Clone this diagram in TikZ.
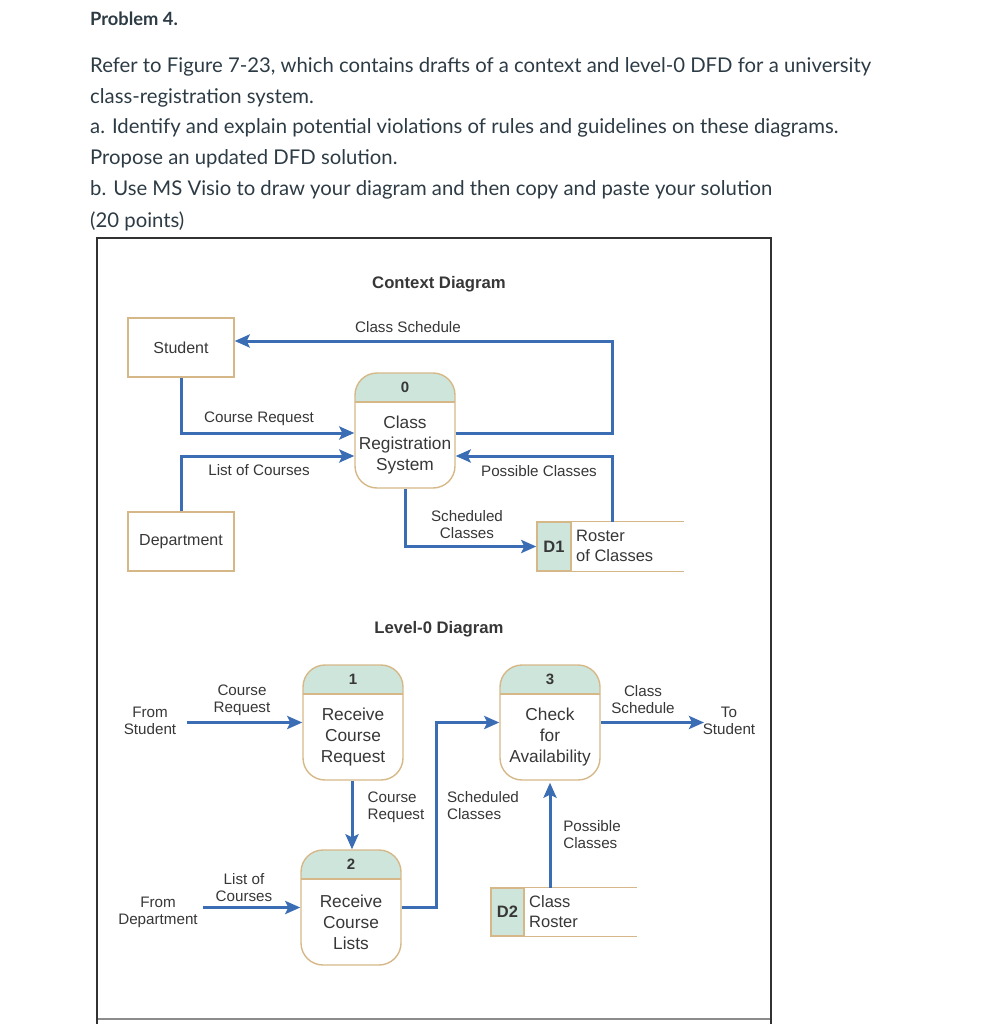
\documentclass[tikz,border=0pt]{standalone}
\usepackage{fontspec}
\setmainfont{Liberation Sans}
\newfontfamily\latofont{Lato}
\usetikzlibrary{arrows.meta}
\definecolor{flowblue}{RGB}{59,109,181}
\definecolor{tanc}{RGB}{214,184,136}
\definecolor{mint}{RGB}{206,229,220}
\definecolor{txt}{RGB}{55,55,55}
\definecolor{hdrtxt}{RGB}{45,59,69}
\definecolor{framec}{RGB}{50,50,50}
\definecolor{botline}{RGB}{140,140,140}
\begin{document}
\begin{tikzpicture}[x=1pt,y=-1pt,
 lbl/.style={font=\fontsize{15.2}{17}\selectfont, text=txt, align=center, inner sep=0pt},
 lbll/.style={lbl, align=left},
 ptxt/.style={font=\fontsize{17.3}{21}\selectfont, text=txt, align=center, inner sep=0pt},
 pnum/.style={font=\fontsize{15}{18}\bfseries\selectfont, text=txt, inner sep=0pt},
 dtitle/.style={font=\fontsize{16.7}{20}\bfseries\selectfont, text=txt, inner sep=0pt},
 ext/.style={rectangle, draw=tanc, line width=1.4pt, minimum width=106pt, minimum height=59pt, inner sep=0pt, font=\fontsize{16}{19}\selectfont, text=txt},
 proc/.style={rectangle, rounded corners=22pt, draw=tanc, line width=1.4pt, minimum width=100pt, minimum height=115pt, inner sep=0pt,
   path picture={\fill[mint, sharp corners] ([yshift=2pt]path picture bounding box.north west) rectangle ([yshift=-29pt]path picture bounding box.north east);
   \draw[tanc, line width=1.4pt, sharp corners] ([yshift=-29pt]path picture bounding box.north west) -- ([yshift=-29pt]path picture bounding box.north east);}},
 sid/.style={rectangle, draw=tanc, fill=mint, line width=1.4pt, inner sep=0pt, font=\fontsize{16.5}{19}\bfseries\selectfont, text=txt},
 sline/.style={draw=tanc, line width=1.4pt},
 stxt/.style={font=\fontsize{16.5}{20}\selectfont, text=txt, align=left, inner sep=0pt, anchor=west},
 flow/.style={draw=flowblue, line width=3pt, -{Stealth[length=15pt,width=13pt,inset=3pt]}},
 hdr/.style={font=\latofont\fontsize{20.3}{24}\selectfont, text=hdrtxt, inner sep=0pt, anchor=base west},
]
\useasboundingbox (0,0) rectangle (1003,1024);
% header text
\node[hdr, font=\latofont\bfseries\fontsize{18.3}{22}\selectfont] (h0) at (90,26) {Problem 4.};
\node[hdr] (h1) at (90,73) {Refer to Figure 7-23, which contains drafts of a context and level-0 DFD for a university};
\node[hdr] (h2) at (90,104) {class-registration system.};
\node[hdr] (h3) at (90,134) {a. Identify and explain potential violations of rules and guidelines on these diagrams.};
\node[hdr] (h4) at (90,165) {Propose an updated DFD solution.};
\node[hdr] (h5) at (90,196) {b. Use MS Visio to draw your diagram and then copy and paste your solution};
\node[hdr] (h6) at (90,227) {(20 points)};
% frame
\draw[framec, line width=2pt] (97,1024) -- (97,238) -- (771,238) -- (771,1024);
\draw[botline, line width=2pt] (98,1019) -- (770,1019);

% ---------------- Context diagram
\node[dtitle] (ctitle) at (439,284) {Context Diagram};
\node[ext] (st) at (181,347.5) {Student};
\node[ext] (dept) at (181,541.5) {Department};
\node[proc] (p0) at (405,430.5) {};
\node[pnum] (p0n) at (405,387) {0};
\node[ptxt] (p0t) at (405,445) {Class\\Registration\\System};
\node[sid, minimum width=34pt, minimum height=49pt] (d1) at (554,546.5) {D1};
\draw[sline] (d1.north east) -- ++(112,0);
\draw[sline] (d1.south east) -- ++(112,0);
\node[stxt] (d1t) at (576,546) {Roster\\of Classes};
\coordinate (d1top) at (612,522);

\draw[flow] ([yshift=-2.5pt]p0.east) -| (612,341) -- (st.east |- 612,341);
\draw[flow] (st.south) |- ([yshift=-2.5pt]p0.west);
\draw[flow] (dept.north) |- ([yshift=-25.5pt]p0.west);
\draw[flow] (d1top) |- ([yshift=-25.5pt]p0.east);
\draw[flow] (p0.south) |- (d1.west);

\node[lbl] (lcs) at (408,327) {Class Schedule};
\node[lbl] (lcr) at (259,419) {Course Request};
\node[lbl] (llc) at (259,470) {List of Courses};
\node[lbl] (lpc) at (539,471) {Possible Classes};
\node[lbl] (lsc) at (467,525) {Scheduled\\Classes};

% ---------------- Level-0 diagram
\node[dtitle] (ltitle) at (439,629) {Level-0 Diagram};
\node[proc] (p1) at (353,722.5) {};
\node[pnum] (p1n) at (353,679.5) {1};
\node[ptxt] (p1t) at (353,737) {Receive\\Course\\Request};
\node[proc] (p3) at (550,722.5) {};
\node[pnum] (p3n) at (550,679.5) {3};
\node[ptxt] (p3t) at (550,737) {Check\\for\\Availability};
\node[proc] (p2) at (351,907.5) {};
\node[pnum] (p2n) at (351,864.5) {2};
\node[ptxt] (p2t) at (351,922) {Receive\\Course\\Lists};
\node[sid, minimum width=33pt, minimum height=48pt] (d2) at (507.5,912) {D2};
\draw[sline] (d2.north east) -- ++(112,0);
\draw[sline] (d2.south east) -- ++(112,0);
\node[stxt] (d2t) at (529,912) {Class\\Roster};

\coordinate (fromst) at (187,722.5);
\coordinate (fromdept) at (203,907.5);
\coordinate (tost) at (704,722.5);
\coordinate (d2top) at (550,888);

\draw[flow] (fromst) -- (p1.west);
\draw[flow] (fromdept) -- (p2.west);
\draw[flow] ([xshift=-1pt]p1.south) -- ([xshift=-1pt]p1.south |- p2.north);
\draw[flow] (p2.east) -| (436,722.5) -- (p3.west);
\draw[flow] (d2top) -- ([yshift=-2pt]p3.south);
\draw[flow] (p3.east) -- (tost);

\node[lbl] (lfs) at (150,721) {From\\Student};
\node[lbl] (lcr1) at (242,700) {Course\\Request};
\node[lbll] (lcr2) at (396,807.5) {Course\\Request};
\node[lbl] (lfd) at (158,912) {From\\Department};
\node[lbl] (llc2) at (244,888) {List of\\Courses};
\node[lbll] (lsc2) at (483,805.5) {Scheduled\\Classes};
\node[lbll] (lpc2) at (592,834.5) {Possible\\Classes};
\node[lbl] (lcs2) at (643,700) {Class\\Schedule};
\node[lbl] (lts) at (729,721) {To\\Student};
\end{tikzpicture}
\end{document}
